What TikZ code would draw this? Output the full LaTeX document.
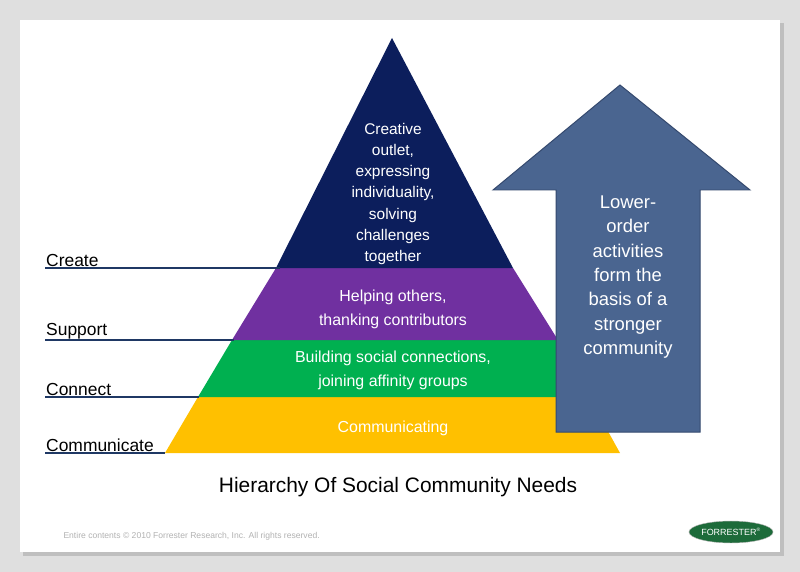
\documentclass[tikz,border=0pt]{standalone}
\usepackage{fontspec}
\setmainfont{Liberation Sans}
\usetikzlibrary{shapes.geometric}
\definecolor{navy}{HTML}{0C1E5C}
\definecolor{purp}{HTML}{7030A0}
\definecolor{grn}{HTML}{00B050}
\definecolor{yel}{HTML}{FFC000}
\definecolor{arr}{HTML}{4A6590}
\definecolor{arrb}{HTML}{34496E}
\definecolor{lin}{HTML}{1F3864}
\definecolor{frg}{HTML}{1D6B3A}
\tikzset{lay/.style={text=white,align=center,font=\fontsize{16}{24}\selectfont},
lbl/.style={anchor=south west,inner sep=1pt,font=\fontsize{17.5}{19}\selectfont},
lvl/.style={draw=lin,line width=1.2pt}}
\begin{document}
\begin{tikzpicture}[x=1bp,y=-1bp]
\useasboundingbox (0,0) rectangle (800,572);
\fill[gray!25] (0,0) rectangle (800,572);
\fill[gray!50] (23,23) rectangle (784,556);
\fill[white] (20,20) rectangle (780,552);
% layers
\fill[yel] (165,453) -- (620,453) -- (589,397) -- (198,397) -- cycle;
\fill[grn] (198,397) -- (589,397) -- (558,340) -- (232,340) -- cycle;
\fill[purp] (232,340) -- (558,340) -- (513,268) -- (276,268) -- cycle;
\fill[navy] (276,268) -- (513,268) -- (392,38) -- cycle;
% arrow
\coordinate (arrow) at (620,85);
\draw[draw=arrb,fill=arr,line width=1pt] (arrow) -- (750,190) -- (700,190) -- (700,432) -- (556,432) -- (556,190) -- (493,190) -- cycle;
\node[lay,font=\fontsize{18.5}{24.5}\selectfont] (arrtxt) at (628,277) {Lower-\\order\\activities\\form the\\basis of a\\stronger\\community};
% texts
\node[lay,font=\fontsize{15.5}{21.3}\selectfont] (t1) at (393,194) {Creative\\outlet,\\expressing\\individuality,\\solving\\challenges\\together};
\node[lay] (t2) at (393,309) {Helping others,\\thanking contributors};
\node[lay] (t3) at (393,370) {Building social connections,\\joining affinity groups};
\node[lay] (t4) at (393,428) {Communicating};
% left labels
\coordinate (c1) at (280,268); \coordinate (c2) at (234,340); \coordinate (c3) at (199,397); \coordinate (c4) at (165,453);
\draw[lvl] (45,268) coordinate (l1) -- (c1);
\draw[lvl] (45,340) coordinate (l2) -- (c2);
\draw[lvl] (45,397) coordinate (l3) -- (c3);
\draw[lvl] (45,453) coordinate (l4) -- (c4);
\node[lbl] (n1) at (l1) {Create};
\node[lbl] (n2) at (l2) {Support};
\node[lbl] (n3) at (l3) {Connect};
\node[lbl] (n4) at (l4) {Communicate};
\node[font=\fontsize{21}{24}\selectfont] (title) at (398,487) {Hierarchy Of Social Community Needs};
\node[anchor=west,text=gray!60,font=\fontsize{8.6}{9}\selectfont] (foot) at (60,536) {Entire contents © 2010  Forrester Research, Inc. All rights reserved.};
\node[ellipse,fill=frg,draw=gray!60,minimum width=74,minimum height=22,text=white,inner sep=0,font=\fontsize{9}{10}\selectfont] (logo) at (731,532) {FORRESTER\textsuperscript{\tiny ®}};
\end{tikzpicture}
\end{document}
